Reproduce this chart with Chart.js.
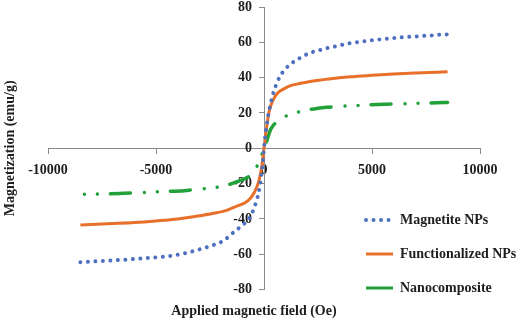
<!DOCTYPE html>
<html>
<head>
<meta charset="utf-8">
<script src="https://cdn.jsdelivr.net/npm/chart.js@4"></script>
<style>
html,body{margin:0;padding:0;background:#ffffff;}
#wrap{width:520px;height:320px;position:relative;}
</style>
</head>
<body>
<div id="wrap"><canvas id="c" width="520" height="320"></canvas></div>
<script>
// ---- data ----
const seriesNames = ['Magnetite NPs', 'Functionalized NPs', 'Nanocomposite'];

const magnetiteH = [-8500,-7500,-6500,-5500,-4500,-3700,-3000,-2400,-1900,-1400,-1000,-700,-450,-250,-120,-50,0,50,120,200,300,450,600,750,950,1200,1500,1800,2150,2500,2850,3200,3550,3900,4250,4600,4950,5300,5650,6000,6350,6700,7050,7400,7750,8100,8500];
const magnetiteM = [-64.5,-63.8,-63.1,-62.2,-61.2,-59.5,-57.3,-55,-52.5,-47.5,-43.5,-40,-33.5,-25,-15,-7,0,6,12.5,19,25,32,37,41,44.3,47.4,49.9,52.1,54.1,55.3,56.5,57.4,58.4,59.3,59.9,60.5,61.1,61.6,62,62.4,62.8,63.1,63.3,63.7,63.9,64.3,64.5];

const functionalizedH = [-8500,-7000,-6000,-5000,-4000,-3000,-2200,-1700,-1200,-900,-650,-450,-250,-100,0,100,250,450,650,900,1200,1700,2200,3000,4000,5000,6000,7000,8500];
const functionalizedM = [-43.4,-42.6,-42,-41.1,-40,-38.2,-36.5,-35,-32.5,-31,-28.5,-25,-19,-10,0,10,21.5,28,31.5,33.5,35.3,36.8,38,39.3,40.5,41.3,42,42.6,43.3];

const nanocompositeH = [-8500,-7500,-6500,-5500,-4800,-3700,-3100,-2550,-2000,-1400,-850,-550,-400,-200,0,150,300,400,700,1225,1750,2300,2900,3450,4000,4600,5200,5700,6250,6850,7400,8000,8500];
const nanocompositeM = [-26,-25.9,-25.5,-25,-24.5,-24,-23.2,-22.6,-21.7,-19.6,-17,-14.5,-11.8,-7,0,5,10.5,12.5,16,19.3,21,22.3,23.2,23.6,24.1,24.4,24.8,25,25.2,25.4,25.6,25.8,26];

const xTickValues = [-10000,-5000,0,5000,10000];
const yTickValues = [-80,-60,-40,-20,0,20,40,60,80];
const xTitle = 'Applied magnetic field (Oe)';
const yTitle = 'Magnetization (emu/g)';

// ---- styling ----
const FONT = "'Liberation Serif', 'Times New Roman', serif";
const TEXT = '#1e1e1e';
const AXIS = '#8a8a8a';
Chart.defaults.font.family = FONT;
Chart.defaults.font.weight = 'bold';
Chart.defaults.font.size = 14;
Chart.defaults.color = TEXT;

const toPoints = (hs, ms) => hs.map((h, i) => ({x: h, y: ms[i]}));
const setTicks = (vals) => (s) => { s.ticks = vals.map(v => ({value: v})); };
const noPad = (s) => { s.paddingLeft = 0; s.paddingRight = 0; s.paddingTop = 0; s.paddingBottom = 0; };

const common = {pointRadius: 0, pointHoverRadius: 0, fill: false, tension: 0.4, cubicInterpolationMode: 'monotone', borderJoinStyle: 'round'};

const datasets = [
  Object.assign({label: seriesNames[0], data: toPoints(magnetiteH, magnetiteM), borderColor: '#4e70be', backgroundColor: '#4e70be', borderWidth: 4, borderDash: [0.01, 7.5], borderCapStyle: 'round', legendDash: [0.01, 7.5], legendCap: 'round', legendWidth: 4}, common),
  Object.assign({label: seriesNames[1], data: toPoints(functionalizedH, functionalizedM), borderColor: '#e8702a', backgroundColor: '#e8702a', borderWidth: 3, borderCapStyle: 'butt', legendDash: [], legendCap: 'butt', legendWidth: 3}, common),
  Object.assign({label: seriesNames[2], data: toPoints(nanocompositeH, nanocompositeM), borderColor: '#22a03a', backgroundColor: '#22a03a', borderWidth: 3.5, borderDash: [20, 14, 0.01, 13, 0.01, 13], borderDashOffset: 30, borderCapStyle: 'round', legendDash: [], legendCap: 'butt', legendWidth: 3}, common)
];

const legendPlacer = {
  id: 'legendPlacer',
  afterLayout(chart) {
    const lg = chart.legend;
    if (!lg) return;
    lg.left = 346; lg.top = 193;
    lg.right = lg.left + lg.width; lg.bottom = lg.top + 400;
  }
};

new Chart(document.getElementById('c'), {
  type: 'line',
  data: {datasets},
  plugins: [legendPlacer],
  options: {
    responsive: false,
    animation: false,
    devicePixelRatio: 1,
    layout: {padding: {left: 28, right: 40, top: 7, bottom: 0}},
    scales: {
      x: {
        type: 'linear', min: -10000, max: 10000,
        position: {y: 0},
        afterBuildTicks: setTicks(xTickValues),
        afterFit: noPad,
        ticks: {callback: v => String(v), padding: 9, maxRotation: 0, autoSkip: false, color: TEXT},
        grid: {drawOnChartArea: false, drawTicks: true, tickLength: 5, color: AXIS},
        border: {display: true, color: AXIS, width: 1}
      },
      y: {
        type: 'linear', min: -80, max: 80,
        position: {x: 0},
        afterBuildTicks: setTicks(yTickValues),
        afterFit: noPad,
        ticks: {display: false},
        grid: {drawOnChartArea: false, drawTicks: true, tickLength: 5, color: AXIS},
        border: {display: true, color: AXIS, width: 1}
      },
      yl: {
        type: 'linear', axis: 'y', min: -80, max: 80,
        position: {x: -560},
        afterBuildTicks: setTicks(yTickValues),
        afterFit: noPad,
        ticks: {callback: v => String(v), color: TEXT, autoSkip: false},
        grid: {display: false},
        border: {display: false}
      }
    },
    plugins: {
      legend: {
        display: true,
        position: 'chartArea',
        align: 'start',
        labels: {
          usePointStyle: true, pointStyle: 'line', pointStyleWidth: 27, boxWidth: 27, padding: 20,
          color: TEXT, font: {size: 14, weight: 'bold', family: FONT},
          generateLabels: (chart) => Chart.defaults.plugins.legend.labels.generateLabels(chart).map(it => {
            const ds = chart.data.datasets[it.datasetIndex];
            return Object.assign(it, {lineDash: ds.legendDash, lineDashOffset: 0, lineCap: ds.legendCap, lineWidth: ds.legendWidth, strokeStyle: ds.borderColor, fillStyle: ds.borderColor});
          })
        }
      },
      title: {
        display: true, position: 'bottom', text: xTitle, fullSize: true,
        color: TEXT, font: {size: 14, weight: 'bold', family: FONT},
        padding: {top: 13.6, bottom: 0}
      },
      subtitle: {
        display: true, position: 'left', text: yTitle, fullSize: false,
        color: TEXT, font: {size: 14, weight: 'bold', family: FONT},
        padding: {top: -26.4, bottom: 29.6}
      },
      tooltip: {enabled: false}
    }
  }
});
</script>
</body>
</html>
